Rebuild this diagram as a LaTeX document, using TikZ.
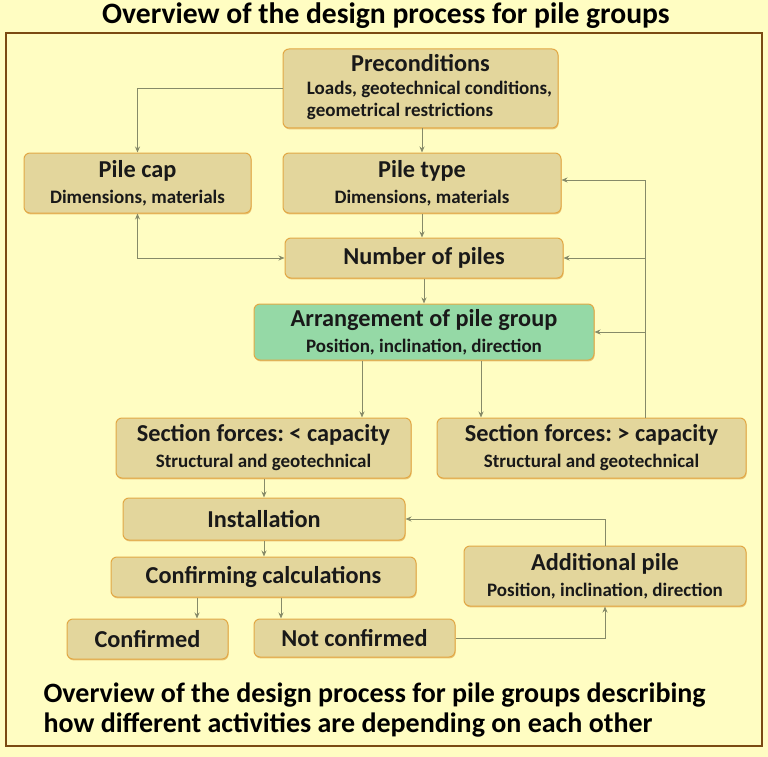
\documentclass[tikz,border=0pt]{standalone}
\usepackage{fontspec}
\setmainfont{Carlito}
\usepackage{xcolor}
\usepackage{tikz}
\usetikzlibrary{positioning}
\usetikzlibrary{arrows.meta}
\usetikzlibrary{shadows}
\frenchspacing

\definecolor{paper}{HTML}{FFFDC2}
\definecolor{frame}{HTML}{7B4A12}
\definecolor{tan}{HTML}{E3D69C}
\definecolor{rim}{HTML}{E2A845}
\definecolor{mint}{HTML}{95D9A6}
\definecolor{wire}{HTML}{868A68}

\newcommand{\boxhead}{\fontsize{24.3}{28}\selectfont\bfseries}
\newcommand{\boxsub}{\fontsize{19}{26}\selectfont\bfseries}

\begin{document}
\begin{tikzpicture}[x=1pt, y=-1pt]
        \tikzstyle{stage}=[rectangle, rounded corners=6pt, fill=tan,
            draw=rim, line width=1pt, align=center, inner sep=2pt,
            text=black!90, font=\boxsub,
            drop shadow={shadow xshift=0.6pt, shadow yshift=-1.4pt,
            fill=rim!80!brown, opacity=.6}]
        \tikzstyle{link}=[draw=wire, line width=1pt,
            -{Stealth[length=6pt, width=5pt]}]

            \fill[paper] (0,0) rectangle (768,757);
            \useasboundingbox (0,0) rectangle (768,757);
            \draw[frame, line width=2.6pt] (6,33) rectangle (762,746);

            \node[font=\fontsize{29.6}{34}\selectfont\bfseries] (title)
            at (386,16) {Overview of the design process for pile groups};

            \node[stage, font=\fontsize{19}{22}\selectfont\bfseries,
            minimum width=275pt, minimum height=79pt] (pre)
            at (420.5,88.5) {{\boxhead Preconditions}\\[1pt]
            \hspace*{18pt}\begin{tabular}[t]{@{}l@{}}
            Loads, geotechnical conditions,\\
            geometrical restrictions\end{tabular}};

            \node[stage, minimum width=227pt, minimum height=60pt] (cap)
            at (137.5,183) {{\boxhead Pile cap}\\
            Dimensions, materials};

            \node[stage, minimum width=278pt, minimum height=60pt] (type)
            at (422,183) {{\boxhead Pile type}\\
            Dimensions, materials};

            \node[stage, minimum width=278pt, minimum height=40pt] (num)
            at (424,258) {\boxhead Number of piles};

            \node[stage, fill=mint, minimum width=340pt,
            minimum height=56pt] (arr)
            at (424,332) {{\boxhead Arrangement of pile group}\\
            Position, inclination, direction};

            \node[stage, minimum width=295pt, minimum height=60pt] (seclt)
            at (263.5,448) {{\boxhead Section forces: < capacity}\\
            Structural and geotechnical};

            \node[stage, minimum width=309pt, minimum height=60pt] (secgt)
            at (591.5,448) {{\boxhead Section forces: > capacity}\\
            Structural and geotechnical};

            \node[stage, minimum width=282pt, minimum height=42pt] (inst)
            at (264,519) {\boxhead Installation};

            \node[stage, minimum width=305pt, minimum height=40pt] (calc)
            at (263.5,577) {\boxhead Confirming calculations};

            \node[stage, minimum width=161pt, minimum height=40pt] (yes)
            at (147.5,639) {\boxhead Confirmed};

            \node[stage, minimum width=201pt, minimum height=38pt] (no)
            at (354.5,638) {\boxhead Not confirmed};

            \node[stage, minimum width=282pt, minimum height=60pt] (add)
            at (605,576) {{\boxhead Additional pile}\\
            Position, inclination, direction};

            \node[anchor=west, align=left,
            font=\fontsize{28}{30}\selectfont\bfseries] (caption)
            at (40,710)
            {Overview of the design process for pile groups describing\\
            how different activities are depending on each other};

            \draw[link] (pre.west) -| (cap.north);
            \draw[link] (pre.south -| type.north) -- (type.north);
            \draw[link] (type.south) -- (type.south |- num.north);
            \draw[link, {Stealth[length=6pt, width=5pt]}-{Stealth[length=6pt,
            width=5pt]}] (cap.south) |- (num.west);
            \draw[link] (num.south) -- (num.south |- arr.north);

            \coordinate (lo) at ([xshift=-62pt]arr.south);
            \coordinate (ro) at ([xshift=57pt]arr.south);
            \draw[link] (lo) -- (lo |- seclt.north);
            \draw[link] (ro) -- (ro |- secgt.north);

            \coordinate (back) at ([xshift=54pt]secgt.north);
            \draw[link] (back) |- ([yshift=3pt]type.east);
            \foreach \t in {num, arr}
            {
                \draw[link] (back |- \t.east) -- (\t.east);
            }

            \draw[link] (seclt.south -| inst.south) -- (inst.north);
            \draw[link] (inst.south) -- (inst.south |- calc.north);
            \coordinate (cl) at ([xshift=-66.5pt]calc.south);
            \coordinate (cr) at ([xshift=17.5pt]calc.south);
            \draw[link] (cl) -- (cl |- yes.north);
            \draw[link] (cr) -- (cr |- no.north);
            \draw[link] (no.east) -| (add.south);
            \draw[link] (add.north) |- (inst.east);
    \end{tikzpicture}
\end{document}
